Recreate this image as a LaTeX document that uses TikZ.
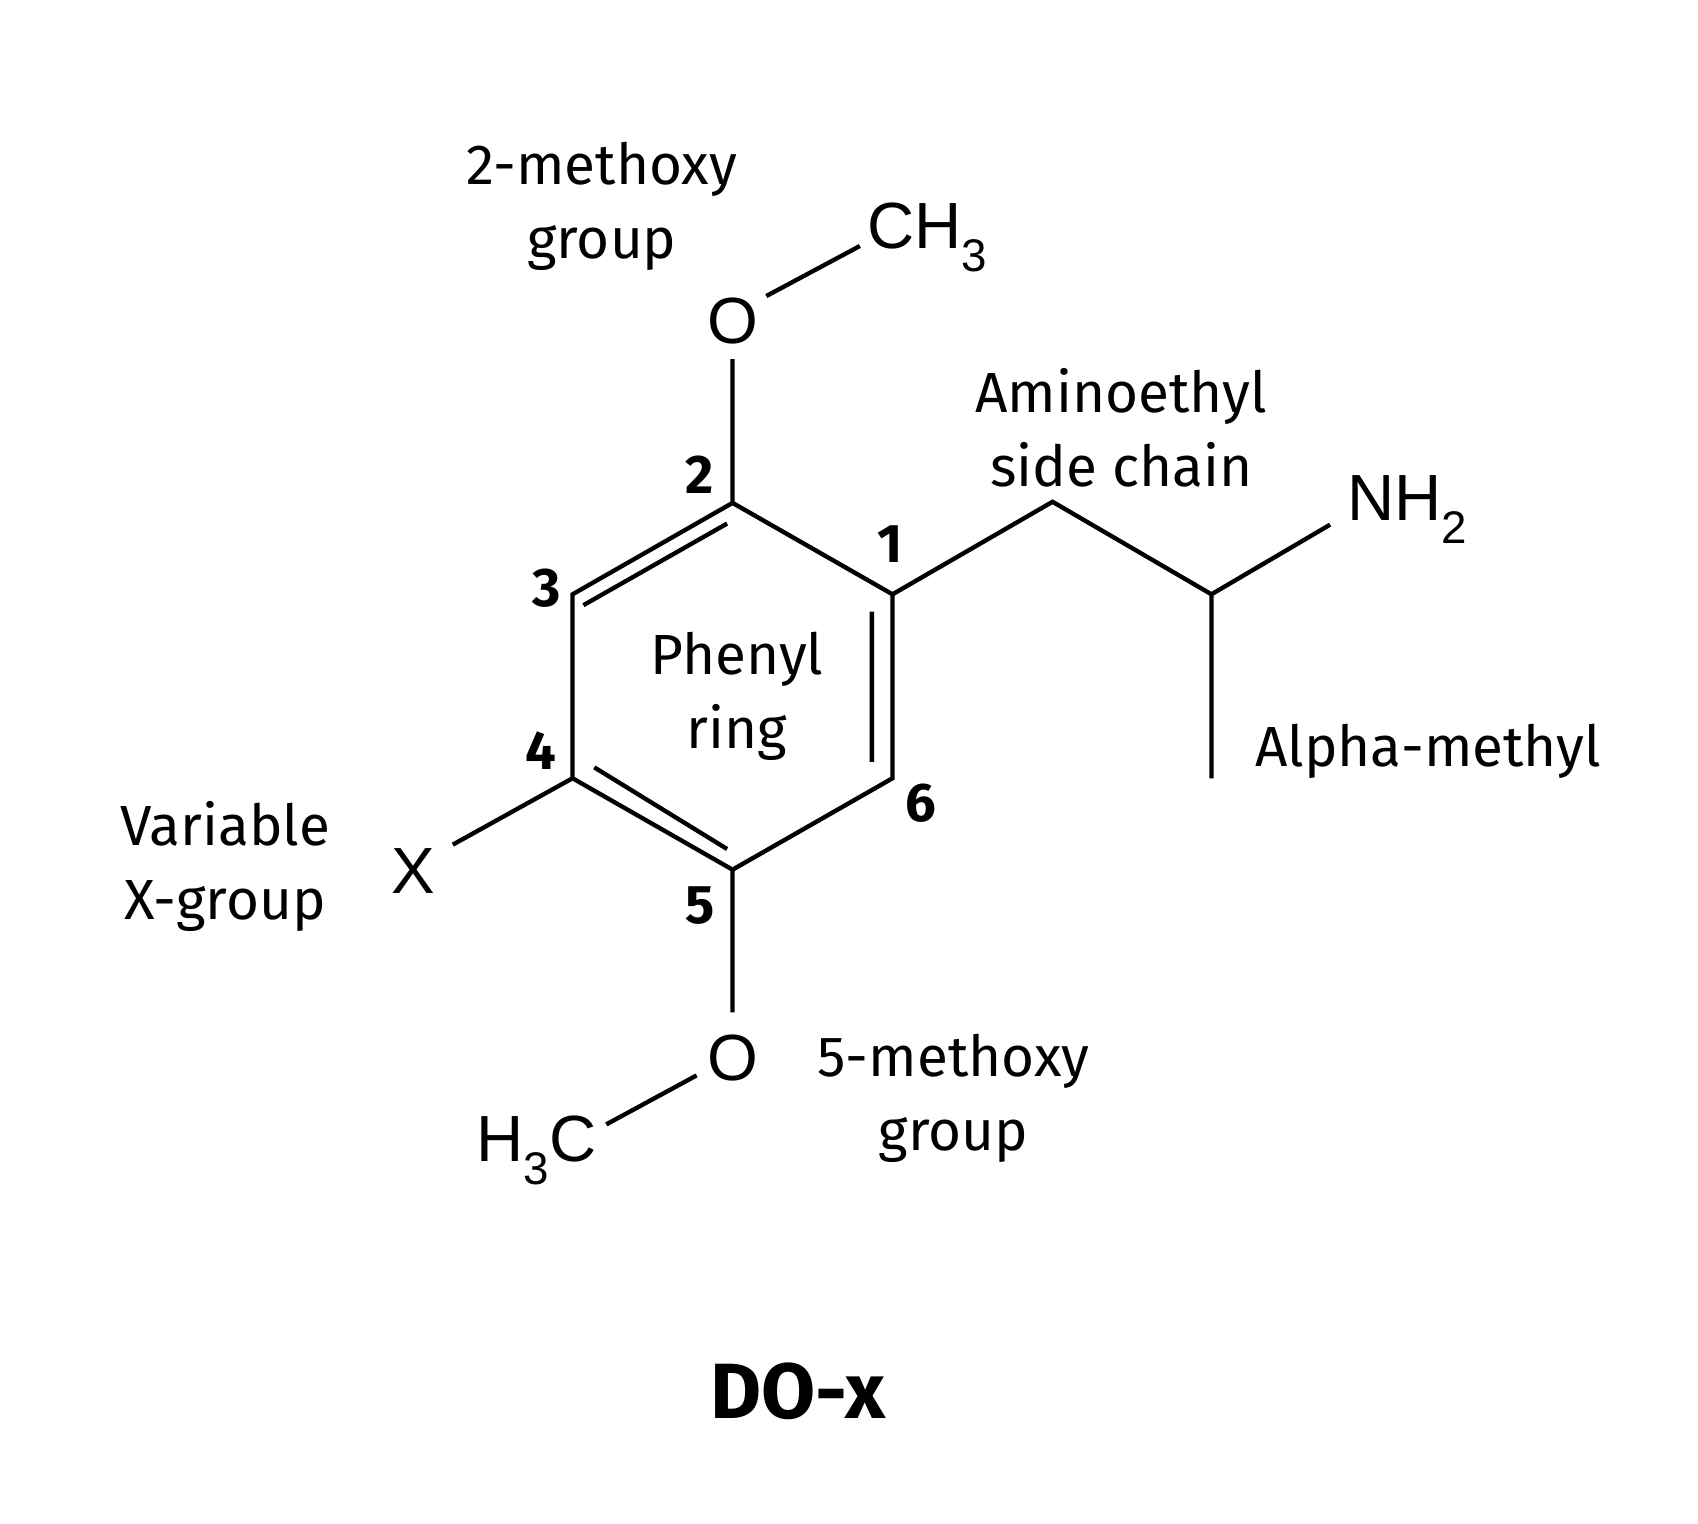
\documentclass[tikz,border=0pt]{standalone}
\usepackage{fontspec}
\setmainfont{Fira Sans}
\newfontfamily\atomf{Liberation Sans}
\begin{document}
\begin{tikzpicture}[x=1pt,y=-1pt,line width=4pt,
 lab/.style={font=\fontsize{52}{68}\selectfont,align=center,inner sep=0},
 num/.style={font=\fontsize{50}{50}\bfseries\selectfont,inner sep=0},
 atom/.style={font=\atomf\fontsize{60}{60}\selectfont,inner sep=0}]
\useasboundingbox (0,0) rectangle (1560,1400);
\coordinate (c2) at (673,462); \coordinate (c1) at (820,546);
\coordinate (c6) at (820,715); \coordinate (c5) at (673,799);
\coordinate (c4) at (526,715); \coordinate (c3) at (526,546);
\draw (c2)--(c1)--(c6)--(c5)--(c4)--(c3)--cycle;
\coordinate (d1) at (536,556); \coordinate (d2) at (668,481);
\coordinate (d3) at (801,562); \coordinate (d4) at (801,700);
\coordinate (d5) at (546,705); \coordinate (d6) at (668,780);
\draw (d1)--(d2) (d3)--(d4) (d5)--(d6);
\node[atom] (o1) at (673,295) {O};
\node[atom,anchor=west] (ch3) at (795,218) {CH\textsubscript{3}};
\coordinate (o1b) at (673,330); \coordinate (o1r) at (704,272); \coordinate (m1) at (790,226);
\draw (c2)--(o1b) (o1r)--(m1);
\coordinate (a1) at (967,461); \coordinate (a2) at (1113,546);
\coordinate (nb) at (1222,482); \coordinate (me) at (1113,715);
\draw (c1)--(a1)--(a2)--(nb) (a2)--(me);
\node[atom,anchor=west] (nh2) at (1236,468) {NH\textsubscript{2}};
\node[atom] (x) at (380,800) {X};
\coordinate (xb) at (416,776);
\draw (c4)--(xb);
\node[atom] (o2) at (673,972) {O};
\coordinate (o2b) at (673,930); \coordinate (o2l) at (640,988); \coordinate (m2) at (557,1033);
\draw (c5)--(o2b) (o2l)--(m2);
\node[atom,anchor=east] (h3c) at (550,1057) {H\textsubscript{3}C};
\node[lab] (l1) at (553,190) {2-methoxy\\group};
\node[lab] (l2) at (1030,393) {Aminoethyl\\side chain};
\node[lab] (l3) at (677,640) {Phenyl\\ring};
\node[lab] (l4) at (1312,690) {Alpha-methyl};
\node[lab] (l5) at (207,796) {Variable\\X-group};
\node[lab] (l6) at (876,1009) {5-methoxy\\group};
\node[num] (n2) at (643,436) {2};
\node[num] (n1) at (818,500) {1};
\node[num] (n3) at (502,540) {3};
\node[num] (n4) at (497,690) {4};
\node[num] (n5) at (643,832) {5};
\node[num] (n6) at (846,738) {6};
\node[font=\fontsize{72}{72}\bfseries\selectfont] (t) at (733,1278) {DO-x};
\end{tikzpicture}
\end{document}
